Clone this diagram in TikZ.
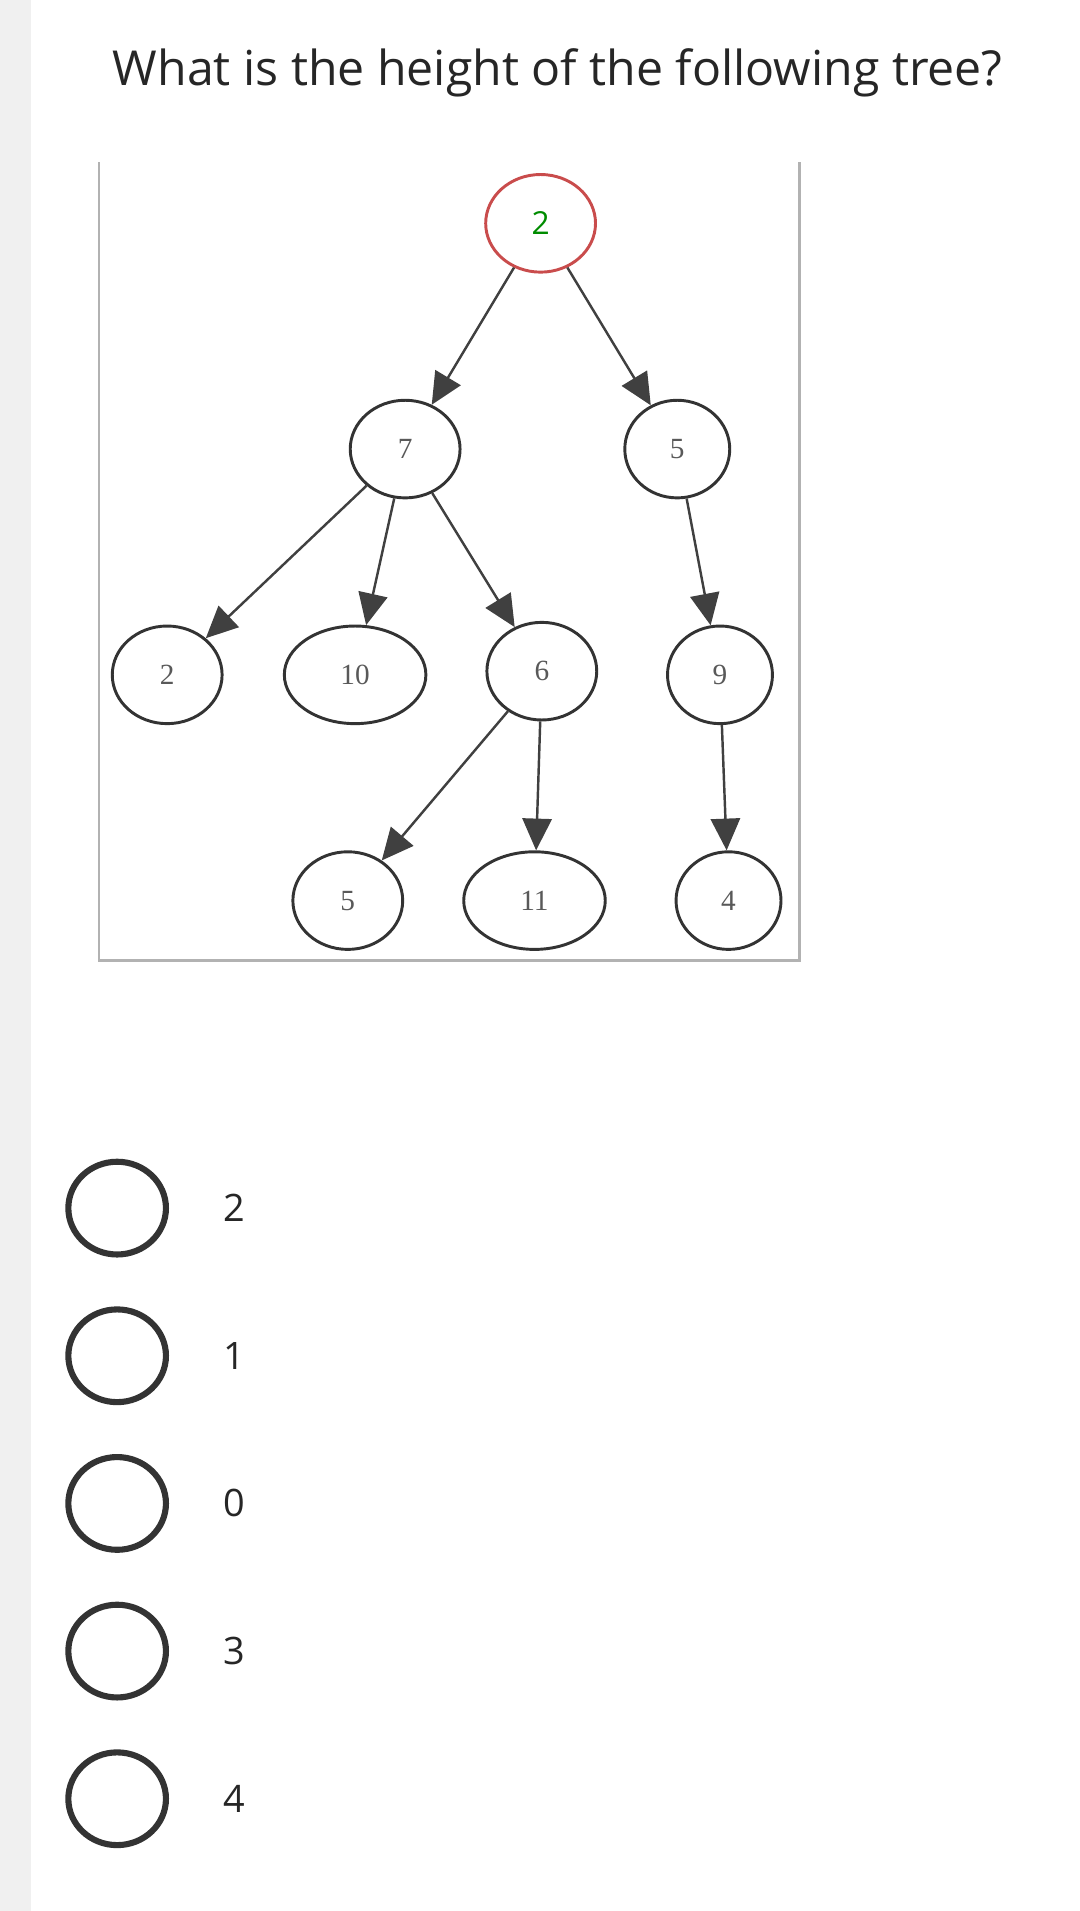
\documentclass[tikz,border=0pt]{standalone}
\usepackage{fontspec}
\setmainfont{Open Sans}
\newfontfamily\tnr{Liberation Serif}
\usetikzlibrary{arrows.meta,shapes.geometric}
\begin{document}
\begin{tikzpicture}[x=1pt,y=-1pt,
  tn/.style={draw=black!80,line width=2.4pt,ellipse,inner sep=0pt,minimum width=90pt,minimum height=80pt,font=\tnr\fontsize{24}{24}\selectfont,text=black!65},
  wide/.style={minimum width=116pt},
  ed/.style={draw=black!75,line width=2pt,-{Triangle[length=26pt,width=24pt]}},
  radio/.style={draw=black!80,line width=5pt,ellipse,minimum width=80pt,minimum height=76pt,inner sep=0pt},
  opt/.style={font=\fontsize{31}{31}\selectfont,text=black!85,anchor=center}]
\useasboundingbox (0,0) rectangle (885,1566);
\fill[black!6] (0,0) rectangle (25,1566);
\node[font=\fontsize{39.5}{40}\selectfont,text=black!85] (title) at (457,60) {What is the height of the following tree?};
\draw[black!30,line width=2pt] (81,133) -- (81,787) -- (655,787) -- (655,133);
\node[tn,draw=red!70!black!70,text=green!55!black,font=\fontsize{26}{26}\selectfont] (r) at (443,183) {2};
\node[tn] (a) at (332,368) {7};
\node[tn,minimum width=86pt] (b) at (555,368) {5};
\node[tn] (c) at (137,553) {2};
\node[tn,wide] (d) at (291,553) {10};
\node[tn] (e) at (444,550) {6};
\node[tn,minimum width=86pt] (f) at (590,553) {9};
\node[tn] (g) at (285,738) {5};
\node[tn,wide] (h) at (438,738) {11};
\node[tn,minimum width=86pt] (i) at (597,738) {4};
\draw[ed] (r) -- (a);
\draw[ed] (r) -- (b);
\draw[ed] (a) -- (c);
\draw[ed] (a) -- (d);
\draw[ed] (a) -- (e);
\draw[ed] (b) -- (f);
\draw[ed] (e) -- (g);
\draw[ed] (e) -- (h);
\draw[ed] (f) -- (i);
\foreach \y/\t/\n in {990/2/o1,1111/1/o2,1232/0/o3,1353/3/o4,1474/4/o5}{
  \node[radio] (\n) at (96,\y) {};
  \node[opt] (\n t) at (192,\y) {\t};
}
\end{tikzpicture}
\end{document}
